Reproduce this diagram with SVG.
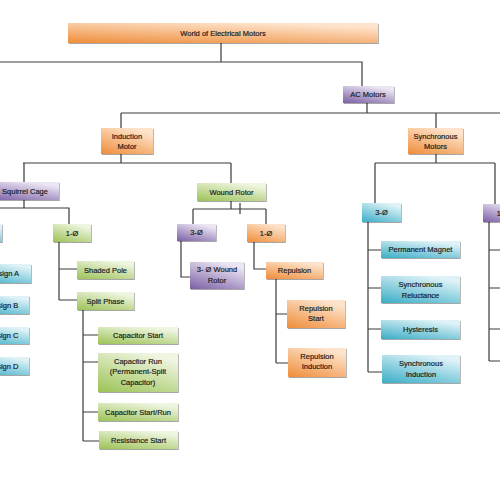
<svg xmlns="http://www.w3.org/2000/svg" width="500" height="500" viewBox="0 0 500 500">
<defs>
<linearGradient id="gO" x1="0" y1="1" x2="0.6" y2="0"><stop offset="0" stop-color="#ef8d3a"/><stop offset="1" stop-color="#fde3cb"/></linearGradient>
<linearGradient id="gP" x1="0" y1="1" x2="0.6" y2="0"><stop offset="0" stop-color="#7a5fa4"/><stop offset="1" stop-color="#ece6f4"/></linearGradient>
<linearGradient id="gG" x1="0" y1="1" x2="0.6" y2="0"><stop offset="0" stop-color="#9cc256"/><stop offset="1" stop-color="#eef5e0"/></linearGradient>
<linearGradient id="gC" x1="0" y1="1" x2="0.6" y2="0"><stop offset="0" stop-color="#3aadc6"/><stop offset="1" stop-color="#def2f7"/></linearGradient>
<filter id="sh" x="-10%" y="-20%" width="130%" height="160%"><feDropShadow dx="0.8" dy="1" stdDeviation="0.7" flood-color="#000" flood-opacity="0.35"/></filter>
</defs>
<style>
.o{fill:url(#gO);filter:url(#sh)}
.p{fill:url(#gP);filter:url(#sh)}
.g{fill:url(#gG);filter:url(#sh)}
.c{fill:url(#gC);filter:url(#sh)}
text{font-family:"Liberation Sans",Arial,sans-serif;font-size:7.5px;fill:#1a1a1a;stroke:#1a1a1a;stroke-width:0.18;text-anchor:middle;dominant-baseline:central}
.ln{fill:none;stroke:#3a3a3a;stroke-width:1.2}
</style>
<rect width="500" height="500" fill="#fff"/>
<g id="connectors" class="ln">
<path d="M221 43V62M0 62H362V86"/>
<path d="M367 103V113M121 113H500M121 113V128M436 113V128"/>
<path d="M121 154V163M23 163H231M24 163V182M231 163V183"/>
<path d="M24 200V208M0 208H69V224"/>
<path d="M59 242V300M59 269H77M59 300H77"/>
<path d="M83 310V441M83 335H98M83 362H98M83 412H98M83 441H99"/>
<path d="M231 201V209M193 209H266M193 209V224M266 209V224M240 203V214"/>
<path d="M181 241V277H190"/>
<path d="M254 242V269H266"/>
<path d="M276 279V363M276 314H287M276 363H288"/>
<path d="M436 154V163M375 163H495M375 163V203M495 163V204"/>
<path d="M368 222V372M368 250H381M368 288H381M368 329H381M368 372H382"/>
<path d="M489 222V361M489 250H500M489 288H500M489 329H500M489 361H500"/>
</g>
<g id="n-world"><rect class="o" x="68" y="23" width="310" height="20"/><text x="223" y="33">World of Electrical Motors</text></g>
<g id="n-ac"><rect class="p" x="343" y="86" width="51" height="17"/><text x="368" y="94.5">AC Motors</text></g>
<g id="n-induction"><rect class="o" x="101" y="128" width="52" height="26"/><text x="127" y="136">Induction</text><text x="127" y="146.5">Motor</text></g>
<g id="n-sync"><rect class="o" x="408" y="128" width="55" height="26"/><text x="435.5" y="136">Synchronous</text><text x="435.5" y="146.5">Motors</text></g>
<g id="n-squirrel"><rect class="p" x="-12" y="182" width="71" height="18"/><text x="25" y="191">Squirrel Cage</text></g>
<g id="n-sq3"><rect class="c" x="-37" y="224" width="39" height="18"/></g>
<g id="n-sq1"><rect class="g" x="53" y="224" width="38" height="18"/><text x="72" y="233">1-Ø</text></g>
<g id="n-da"><rect class="c" x="-24" y="264" width="55" height="19"/><text x="4" y="273.5">Design A</text></g>
<g id="n-db"><rect class="c" x="-24" y="296" width="53" height="18"/><text x="3" y="305">Design B</text></g>
<g id="n-dc"><rect class="c" x="-24" y="327" width="53" height="17"/><text x="3" y="335.5">Design C</text></g>
<g id="n-dd"><rect class="c" x="-24" y="357" width="53" height="18"/><text x="3" y="366">Design D</text></g>
<g id="n-shaded"><rect class="g" x="77" y="261" width="57" height="18"/><text x="105.5" y="270">Shaded Pole</text></g>
<g id="n-split"><rect class="g" x="77" y="292" width="57" height="18"/><text x="105.5" y="301">Split Phase</text></g>
<g id="n-cs"><rect class="g" x="98" y="327" width="80" height="17"/><text x="138" y="335.5">Capacitor Start</text></g>
<g id="n-cr"><rect class="g" x="98" y="353" width="80" height="39"/><text x="138" y="361">Capacitor Run</text><text x="138" y="371.5">(Permanent-Split</text><text x="138" y="382.5">Capacitor)</text></g>
<g id="n-csr"><rect class="g" x="98" y="403" width="80" height="18"/><text x="138" y="412">Capacitor Start/Run</text></g>
<g id="n-rs"><rect class="g" x="99" y="431" width="79" height="18"/><text x="138.5" y="440">Resistance Start</text></g>
<g id="n-wound"><rect class="g" x="197" y="183" width="69" height="18"/><text x="231.5" y="192">Wound Rotor</text></g>
<g id="n-w3"><rect class="p" x="177" y="224" width="39" height="17"/><text x="196.5" y="232.5">3-Ø</text></g>
<g id="n-w1"><rect class="o" x="247" y="224" width="38" height="18"/><text x="266" y="233">1-Ø</text></g>
<g id="n-w3wr"><rect class="p" x="190" y="262" width="54" height="27"/><text x="217" y="269.5">3- Ø Wound</text><text x="217" y="280.5">Rotor</text></g>
<g id="n-rep"><rect class="o" x="266" y="262" width="57" height="17"/><text x="294.5" y="270.5">Repulsion</text></g>
<g id="n-reps"><rect class="o" x="287" y="300" width="58" height="28"/><text x="316" y="308">Repulsion</text><text x="316" y="318.5">Start</text></g>
<g id="n-repi"><rect class="o" x="288" y="348" width="58" height="29"/><text x="317" y="356">Repulsion</text><text x="317" y="366.5">Induction</text></g>
<g id="n-s3"><rect class="c" x="362" y="203" width="39" height="19"/><text x="381.5" y="212.5">3-Ø</text></g>
<g id="n-pm"><rect class="c" x="381" y="241" width="79" height="17"/><text x="420.5" y="249.5">Permanent Magnet</text></g>
<g id="n-srel"><rect class="c" x="381" y="276" width="79" height="27"/><text x="420.5" y="284">Synchronous</text><text x="420.5" y="295">Reluctance</text></g>
<g id="n-hys"><rect class="c" x="381" y="320" width="79" height="19"/><text x="420.5" y="329.5">Hysteresis</text></g>
<g id="n-sind"><rect class="c" x="382" y="355" width="78" height="28"/><text x="421" y="363.5">Synchronous</text><text x="421" y="374">Induction</text></g>
<g id="n-s1"><rect class="p" x="483" y="204" width="40" height="18"/><text x="503" y="213">1-Ø</text></g>
</svg>
